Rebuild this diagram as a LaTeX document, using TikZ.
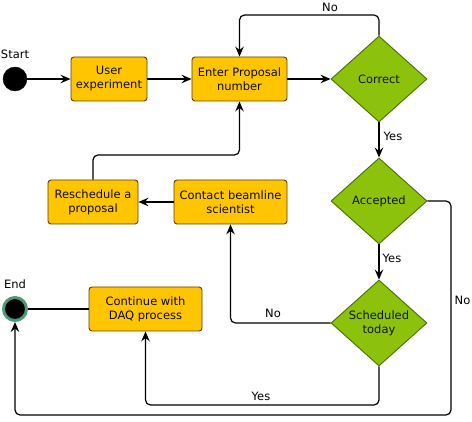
\documentclass[tikz,border=0pt]{standalone}
\usepackage{fontspec}
\setmainfont{DejaVu Sans}
\usepackage{tikz}
\usetikzlibrary{shapes.geometric,arrows.meta,calc}

\definecolor{boxfill}{HTML}{FFC600}
\definecolor{boxline}{HTML}{5A4200}
\definecolor{decfill}{HTML}{8CC20B}
\definecolor{decline}{HTML}{4A6E00}
\definecolor{endring}{HTML}{4E9A78}

\tikzset{
  every node/.style={font=\fontsize{11.5}{14}\selectfont},
  stepbox/.style={draw=boxline, fill=boxfill, rounded corners=3pt, line width=0.9pt,
    align=center, inner sep=0pt, minimum height=44pt, text=black!85!boxline},
  decision/.style={diamond, draw=decline, fill=decfill, line width=0.9pt,
    align=center, inner sep=0pt, minimum width=96pt, minimum height=86pt, text=black!80!decline},
  flow/.style={line width=1.2pt, rounded corners=5pt, -{Stealth[length=10pt,width=8.5pt,inset=3.5pt]}},
  plain/.style={line width=1.2pt, rounded corners=5pt},
  lbl/.style={inner sep=0pt}
}

\begin{document}
\begin{tikzpicture}[x=1pt,y=-1pt]
\useasboundingbox (0,0) rectangle (472,422);
% start and end
\node[circle, fill=black, draw=black, minimum size=24pt, inner sep=0pt] (start) at (15,79) {};
\node[lbl] (startlbl) at (15,54) {Start};
\node[circle, fill=black, draw=endring, line width=3pt, minimum size=23pt, inner sep=0pt] (end) at (15,309) {};
\node[lbl] (endlbl) at (15,284) {End};
% steps
\node[stepbox, minimum width=76pt] (user) at (109,79) {User\\experiment};
\node[stepbox, minimum width=95pt] (enter) at (239.5,79) {Enter Proposal\\number};
\node[stepbox, minimum width=113pt] (contact) at (230.5,202) {Contact beamline\\scientist};
\node[stepbox, minimum width=90pt] (resched) at (93,202) {Reschedule a\\proposal};
\node[stepbox, minimum width=113pt] (daq) at (145.5,309) {Continue with\\DAQ process};
% decisions
\node[decision] (correct) at (379,79) {Correct};
\node[decision] (accepted) at (379,201) {Accepted};
\node[decision] (sched) at (379,323) {Scheduled\\today};
% turning points
\coordinate (noturn) at (379,15);
\coordinate (backturn) at (93,155);
\coordinate (rightturn) at (451,415);
\coordinate (yesturn) at (379,405);
% connectors
\draw[flow] (start) -- (user);
\draw[flow] (user) -- (enter);
\draw[flow] (enter) -- (correct);
\draw[flow] (correct.north) -- (noturn) -| (enter.north);
\draw[flow] (correct) -- (accepted);
\draw[flow] (accepted) -- (sched);
\draw[flow] (accepted.east) -| (rightturn) -| (end.south);
\draw[flow] (sched.west) -| (contact.south);
\draw[flow] (contact) -- (resched);
\draw[flow] (resched.north) -- (backturn) -| (enter.south);
\draw[flow] (sched.south) -- (yesturn) -| (daq.south);
\draw[plain] (daq.west) -- (end.east);
% labels
\node[lbl] (nocorrect) at (330,7) {No};
\node[lbl] (yescorrect) at (393,136) {Yes};
\node[lbl] (yesaccepted) at (392,258) {Yes};
\node[lbl, anchor=west] (noaccepted) at (454.5,300) {No};
\node[lbl] (nosched) at (273,313) {No};
\node[lbl] (yessched) at (261,396) {Yes};
\end{tikzpicture}
\end{document}
